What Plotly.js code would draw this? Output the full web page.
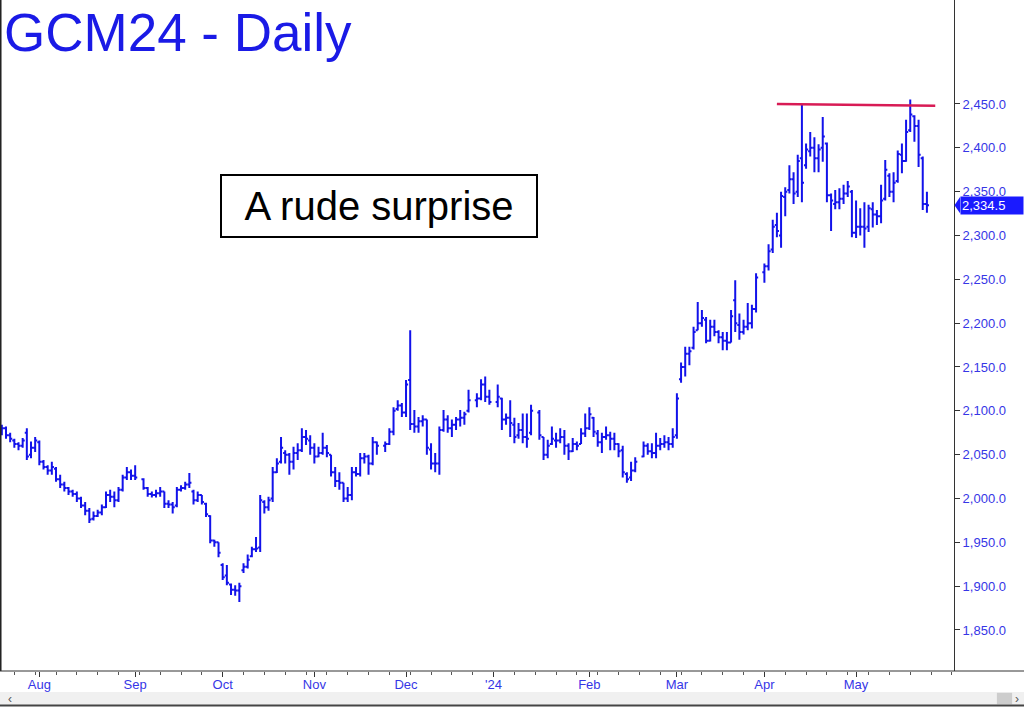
<!DOCTYPE html>
<html>
<head>
<meta charset="utf-8">
<script src="https://cdn.plot.ly/plotly-3.0.1.min.js"></script>
<style>
  html, body { margin: 0; padding: 0; background: #fff; }
  #chart { width: 1024px; height: 707px; }
</style>
</head>
<body>
<div id="chart"></div>
<script>
// ---- Data (GCM24 daily bars) ----
const tradingStart = '2023-07-19';
const tradingEnd = '2024-05-24';
const holidays = ['2023-09-04', '2023-11-23', '2023-12-25', '2024-01-01', '2024-01-15', '2024-02-19', '2024-03-29'];

const opens = [
  2076,2080,2072,2066,2062,2060,2075,2050,2058,
  2064,2042,2036,2032,2034,2022,2016,2012,2008,2005,2000,1992,1986,1977,1980,1984,1990,2004,2002,1998,2010,2024,2030,
  2026,2022,2012,2005,2004,2006,2008,1994,1993,1992,2010,2012,2016,2008,1998,2004,1994,1980,1952,1950,
  1924,1912,1902,1896,1895,1918,1922,1934,1942,1944,1996,1990,2000,2030,2042,2052,2050,2042,2052,2055,2070,2066,
  2058,2048,2052,2058,2050,2030,2020,2018,2000,2004,2030,2028,2046,2048,2040,2064,2060,2062,2076,2102,2106,
  2098,2135,2085,2082,2088,2090,2056,2040,2040,2078,2090,2080,2084,2090,2092,2100,2112,2114,2130,2116,
  2110,2114,2090,2092,2084,2072,2078,2070,2075,2098,2070,2050,2062,2066,2066,2070,2060,2054,2062,2062,2074,
  2080,2092,2074,2064,2070,2072,2068,2062,2055,2028,2024,2032,2048,2060,2054,2052,2060,2062,2064,2062,
  2072,2136,2150,2165,2172,2192,2200,2204,2180,2196,2190,2184,2180,2178,2226,2198,2190,2196,2200,2216,
  2258,2265,2284,2312,2300,2344,2352,2364,2350,2388,2380,2396,2400,2388,2400,2405,2346,2336,2338,2342,2348,2350,
  2303,2310,2310,2310,2330,2324,2322,2342,2368,2350,2362,2392,2385,2420,2436,2425,2388,2336
];
const highs = [
  2084,2082,2075,2068,2064,2069,2080,2065,2070,
  2066,2044,2038,2042,2036,2027,2019,2013,2010,2008,2002,1996,1989,1985,1987,1993,2008,2010,2008,2013,2027,2036,2033,
  2038,2023,2013,2008,2010,2013,2008,1998,1996,2013,2015,2019,2029,2010,2008,2004,1995,1981,1953,1950,
  1926,1924,1903,1901,1904,1926,1936,1945,1956,2004,1998,2002,2036,2046,2070,2055,2052,2059,2063,2080,2078,2072,
  2063,2059,2075,2061,2050,2036,2030,2018,2013,2036,2036,2052,2052,2050,2070,2065,2065,2080,2104,2112,2109,
  2135,2192,2101,2093,2095,2090,2063,2052,2082,2101,2095,2090,2093,2101,2099,2124,2120,2136,2139,2124,
  2130,2115,2097,2112,2092,2086,2097,2097,2107,2101,2070,2067,2082,2075,2080,2078,2063,2069,2065,2080,2097,
  2104,2093,2078,2075,2082,2076,2075,2063,2060,2030,2042,2047,2065,2063,2063,2075,2069,2072,2070,2080,
  2120,2155,2173,2173,2196,2224,2215,2207,2204,2204,2192,2190,2190,2215,2249,2211,2204,2223,2221,2257,
  2268,2290,2318,2326,2350,2355,2380,2372,2392,2449,2405,2418,2412,2404,2435,2406,2348,2352,2354,2358,2362,2352,
  2340,2331,2338,2335,2338,2329,2358,2386,2371,2372,2397,2405,2432,2455,2437,2432,2390,2350
];
const lows = [
  2072,2068,2064,2058,2055,2058,2044,2046,2053,
  2038,2033,2027,2027,2019,2012,2008,2004,2002,1996,1989,1981,1972,1975,1979,1981,1989,1996,1990,1996,2008,2021,2021,
  2021,2010,2002,2001,2001,2002,1989,1989,1983,1990,2008,2010,2012,1993,1996,1993,1979,1949,1945,1933,
  1907,1901,1890,1889,1882,1915,1920,1933,1939,1939,1983,1986,1996,2029,2040,2040,2027,2033,2044,2053,2061,2050,
  2040,2047,2050,2047,2025,2013,2010,1996,1996,1998,2025,2025,2040,2027,2038,2050,2053,2061,2072,2100,2093,
  2093,2078,2075,2075,2082,2050,2033,2030,2027,2076,2075,2070,2078,2082,2084,2098,2104,2112,2110,2107,
  2104,2078,2084,2070,2063,2068,2063,2058,2072,2067,2044,2046,2061,2058,2063,2050,2044,2053,2055,2062,2070,
  2078,2070,2059,2052,2067,2055,2055,2047,2024,2018,2020,2030,2047,2050,2046,2046,2055,2058,2055,2058,
  2068,2132,2139,2152,2170,2192,2196,2177,2179,2185,2177,2169,2169,2178,2190,2181,2187,2192,2194,2212,
  2246,2260,2280,2298,2286,2322,2348,2336,2344,2338,2376,2390,2372,2372,2384,2338,2305,2330,2330,2336,2344,2298,
  2297,2300,2286,2304,2309,2312,2314,2340,2344,2338,2360,2371,2384,2418,2407,2378,2329,2326
];
const closes = [
  2080,2072,2068,2062,2060,2066,2048,2058,2066,
  2042,2036,2032,2036,2022,2016,2012,2008,2005,2000,1992,1986,1976,1980,1984,1990,2004,2002,1998,2010,2024,2030,2026,
  2024,2012,2005,2004,2006,2008,1994,1993,1990,2010,2012,2016,2018,1998,2004,1996,1982,1952,1950,1938,
  1910,1904,1896,1895,1900,1922,1930,1942,1943,1998,1990,1998,2030,2040,2058,2050,2042,2052,2055,2070,2068,2058,
  2048,2052,2058,2052,2030,2020,2018,2000,2004,2030,2028,2046,2048,2040,2064,2060,2062,2076,2100,2106,2098,
  2130,2085,2082,2088,2090,2058,2040,2040,2078,2090,2080,2084,2090,2092,2096,2112,2114,2130,2116,2110,
  2116,2090,2092,2086,2070,2078,2070,2068,2100,2072,2050,2060,2068,2066,2070,2060,2054,2062,2060,2074,2080,
  2096,2076,2064,2070,2072,2068,2062,2054,2030,2022,2032,2042,2060,2054,2052,2060,2062,2064,2062,2070,
  2114,2150,2165,2168,2190,2200,2206,2180,2196,2190,2184,2180,2178,2208,2200,2190,2196,2200,2216,2252,
  2265,2282,2310,2305,2345,2350,2364,2348,2385,2360,2398,2400,2388,2398,2413,2346,2340,2338,2342,2348,2356,2303,
  2310,2310,2308,2331,2324,2322,2340,2375,2350,2360,2393,2385,2418,2438,2425,2392,2336,2334.5
];

// Resistance line drawn on the chart
const resistanceX = ['2024-04-04', '2024-05-28'];
const resistanceY = [2450, 2448];

// Axis ticks
const monthTickVals = ['2023-08-01','2023-09-01','2023-10-02','2023-11-01','2023-12-01','2024-01-01','2024-02-01','2024-03-01','2024-04-01','2024-05-01'];
const monthTickText = ['Aug','Sep','Oct','Nov','Dec',"'24",'Feb','Mar','Apr','May'];
const priceTickVals = [1850,1900,1950,2000,2050,2100,2150,2200,2250,2300,2350,2400,2450];

const chartTitle = 'GCM24 - Daily';
const noteText = 'A rude surprise';

// ---- Build trading dates ----
function tradingDays(start, end, hol) {
  const out = [];
  const d = new Date(start + 'T00:00:00Z');
  const e = new Date(end + 'T00:00:00Z');
  while (d <= e) {
    const dow = d.getUTCDay();
    const s = d.toISOString().slice(0, 10);
    if (dow !== 0 && dow !== 6 && !hol.includes(s)) out.push(s);
    d.setUTCDate(d.getUTCDate() + 1);
  }
  return out;
}
const dates = tradingDays(tradingStart, tradingEnd, holidays);
if (dates.length !== closes.length) console.error('length mismatch', dates.length, closes.length);

const barColor = '#1212ea';
const labelColor = '#3636e6';
const FONT = 'Liberation Sans, Arial, sans-serif';

const yRange = [1803.2, 2568.6];
const lastClose = closes[closes.length - 1];
const lastPaperY = (lastClose - yRange[0]) / (yRange[1] - yRange[0]);

const trace = {
  type: 'ohlc',
  x: dates,
  open: opens, high: highs, low: lows, close: closes,
  increasing: { line: { color: barColor, width: 2 } },
  decreasing: { line: { color: barColor, width: 2 } },
  tickwidth: 0.5,
  hoverinfo: 'skip',
  showlegend: false
};

const fmt = v => v.toLocaleString('en-US', { minimumFractionDigits: 1, maximumFractionDigits: 1 });

const layout = {
  width: 1024, height: 707,
  margin: { l: 1, r: 70, t: 0, b: 36 },
  paper_bgcolor: '#ffffff', plot_bgcolor: '#ffffff',
  font: { family: FONT, color: labelColor },
  showlegend: false,
  dragmode: false,
  xaxis: {
    type: 'date',
    range: ['2023-07-18 19:12', '2024-06-03 12:00'],
    rangebreaks: [{ bounds: ['sat', 'mon'] }],
    rangeslider: { visible: false },
    tickmode: 'array', tickvals: monthTickVals, ticktext: monthTickText,
    ticks: 'outside', ticklen: 5, tickcolor: '#333', tickwidth: 1,
    ticklabelstandoff: -4,
    minor: { tick0: '2023-07-17', dtick: 7 * 86400000, ticks: 'outside', ticklen: 3, tickcolor: '#555', showgrid: false },
    tickfont: { family: FONT, size: 13, color: labelColor },
    showgrid: false, zeroline: false, showline: false,
    fixedrange: true
  },
  yaxis: {
    side: 'right',
    range: yRange,
    tickmode: 'array', tickvals: priceTickVals,
    ticktext: priceTickVals.map(fmt),
    ticks: 'outside', ticklen: 5, tickcolor: '#333',
    tickfont: { family: FONT, size: 13, color: labelColor },
    showgrid: false, zeroline: false,
    showline: true, linecolor: '#333', linewidth: 1,
    fixedrange: true
  },
  shapes: [
    // resistance line
    { type: 'line', xref: 'x', yref: 'y', x0: resistanceX[0], y0: resistanceY[0], x1: resistanceX[1], y1: resistanceY[1],
      line: { color: '#d81b55', width: 2.5 } },
    // left frame
    { type: 'line', xref: 'paper', yref: 'paper', x0: -0.0005, x1: -0.0005, y0: 0, y1: 1, line: { color: '#222', width: 2 } },
    // bottom axis line across full width
    { type: 'line', xref: 'paper', yref: 'paper', x0: -0.002, x1: 1.075, y0: 0, y1: 0, line: { color: '#333', width: 1 } },
    // scrollbar track
    { type: 'rect', xref: 'paper', yref: 'paper', layer: 'below', x0: -0.002, x1: 1.075, y0: -0.0507, y1: -0.0313,
      fillcolor: '#f0f0f0', line: { width: 0 } },
    // scrollbar thumb
    { type: 'rect', xref: 'paper', yref: 'paper', layer: 'below', x0: 1.045, x1: 1.061, y0: -0.0495, y1: -0.0325,
      fillcolor: '#cdcdcd', line: { width: 0 } },
    // bottom border
    { type: 'line', xref: 'paper', yref: 'paper', x0: -0.002, x1: 1.075, y0: -0.0515, y1: -0.0515, line: { color: '#444', width: 2 } },
    // price tag notch
    { type: 'path', xref: 'paper', yref: 'paper',
      path: `M 1.0005 ${lastPaperY} L 1.0065 ${lastPaperY + 0.0125} L 1.0065 ${lastPaperY - 0.0125} Z`,
      fillcolor: '#1a1aff', line: { width: 0 } }
  ],
  annotations: [
    { xref: 'paper', yref: 'paper', x: 0.001, y: 1.0, xanchor: 'left', yanchor: 'top', yshift: -1,
      text: chartTitle, showarrow: false, font: { family: FONT, size: 53, color: '#1a1ae6' } },
    { xref: 'paper', yref: 'paper', x: 0.3966, y: 0.6923, xanchor: 'center', yanchor: 'middle',
      text: noteText, showarrow: false, font: { family: FONT, size: 40, color: '#000' },
      bgcolor: '#ffffff', bordercolor: '#000', borderwidth: 2, borderpad: 1, width: 312, height: 58 },
    { xref: 'paper', yref: 'y', x: 1.0065, y: lastClose, xanchor: 'left', yanchor: 'middle',
      text: fmt(lastClose), showarrow: false, font: { family: FONT, size: 13, color: '#ffffff' },
      bgcolor: '#1a1aff', borderpad: 1, width: 60, align: 'left' },
    { xref: 'paper', yref: 'paper', x: 0.005, y: -0.041, xanchor: 'left', yanchor: 'middle',
      text: '‹', showarrow: false, font: { family: FONT, size: 12, color: '#555' } },
    { xref: 'paper', yref: 'paper', x: 1.070, y: -0.041, xanchor: 'right', yanchor: 'middle',
      text: '›', showarrow: false, font: { family: FONT, size: 12, color: '#555' } }
  ]
};

Plotly.newPlot('chart', [trace], layout, { staticPlot: true, displayModeBar: false });
</script>
</body>
</html>
